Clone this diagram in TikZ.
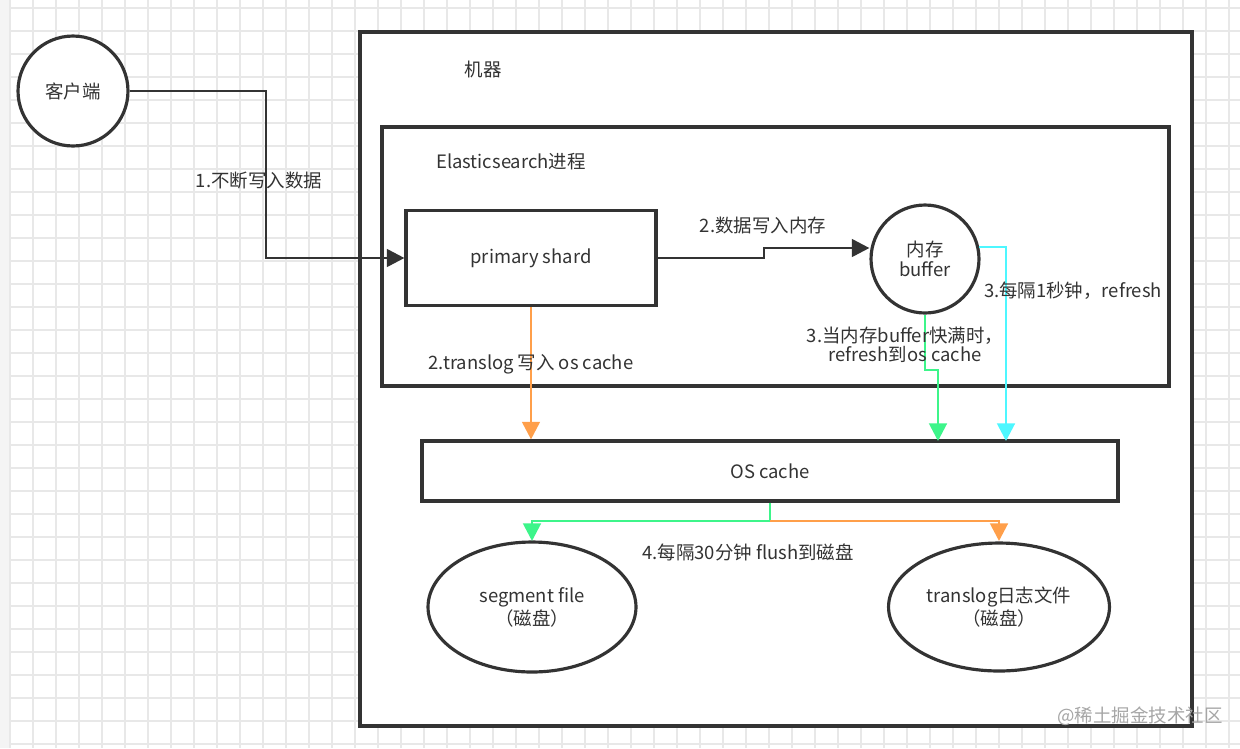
\documentclass[tikz,border=0pt]{standalone}
\usepackage{fontspec}
\setmainfont{Noto Sans CJK SC}
\usetikzlibrary{arrows.meta,shapes.geometric}
\definecolor{lineC}{HTML}{333333}
\definecolor{gridC}{HTML}{E8E8E8}
\definecolor{orangeC}{HTML}{FF9F4A}
\definecolor{greenC}{HTML}{3DF58A}
\definecolor{cyanC}{HTML}{4DF7FF}
\tikzset{
    box/.style={draw=lineC, line width=1.8pt, fill=white},
    lbl/.style={text=lineC, font=\fontsize{10.5pt}{13pt}\selectfont, align=center},
    flow/.style={line width=1.6pt, -{Triangle[length=10pt,width=10pt]}},
}
\begin{document}
\begin{tikzpicture}[x=0.02cm, y=-0.02cm]
        \useasboundingbox (0,0) rectangle (1240,748);
        \fill[gridC!50] (0,0) rectangle (10,748);
        \foreach \gx in {10,33,...,1240} {
            \draw[gridC, line width=0.6pt] (\gx,0) -- (\gx,748);
        }
        \foreach \gy in {8,31,...,748} {
            \draw[gridC, line width=0.6pt] (10,\gy) -- (1240,\gy);
        }
        % containers
        \draw[box] (360,32) rectangle (1192,726);
        \node[lbl] (machine) at (483,69) {机器};
        \draw[box] (382,127) rectangle (1169,386);
        \node[lbl] (esproc) at (511,162) {Elasticsearch进程};
        % nodes
        \node[box, circle, minimum size=2.2cm, lbl] (client) at (73,91) {客户端};
        \node[box, rectangle, minimum width=5cm, minimum height=1.9cm, lbl] (shard) at (531,258) {primary shard};
        \node[box, circle, minimum size=2.16cm, lbl] (buffer) at (925,259) {内存\\[-2pt]buffer};
        \node[box, rectangle, minimum width=13.92cm, minimum height=1.2cm, lbl] (oscache) at (770,471) {OS cache};
        \node[box, ellipse, minimum width=4.16cm, minimum height=2.6cm, lbl] (segment) at (532,607) {segment file\\（磁盘）};
        \node[box, ellipse, minimum width=4.1cm, minimum height=2.56cm, lbl] (translog) at (999,607) {translog日志文件\\（磁盘）};
        \coordinate (split) at (770,521);
        % connectors
        \draw[flow, lineC] (client.east) -- (266,91) -- (266,258) -- (shard.west);
        \draw[flow, lineC] (shard.east) -- (764,258) -- (764,248) -- (buffer.west |- 0,248);
        \draw[flow, orangeC] (shard.south) -- (oscache.north -| shard.south);
        \draw[flow, greenC] (buffer.south) -- (925,370) -- (938,370) -- (938,441);
        \draw[flow, cyanC] (979,247) -- (1006,247) -- (1006,441);
        \draw[flow, greenC] (oscache.south -| split) -- (split) -- (532,521) -- (532,541);
        \draw[flow, orangeC] (split) -- (999,521) -- (999,541);
        % labels
        \node[lbl] at (259,181) {1.不断写入数据};
        \node[lbl] at (763,225) {2.数据写入内存};
        \node[lbl] at (531,364) {2.translog 写入 os cache};
        \node[lbl] at (905,345) {3.当内存buffer快满时，\\[-2pt]refresh到os cache};
        \node[lbl] at (1073,291) {3.每隔1秒钟，refresh};
        \node[lbl] at (748,552) {4.每隔30分钟 flush到磁盘};
        \node[lbl, text=gray!70] at (1140,716) {@稀土掘金技术社区};
    \end{tikzpicture}
\end{document}
